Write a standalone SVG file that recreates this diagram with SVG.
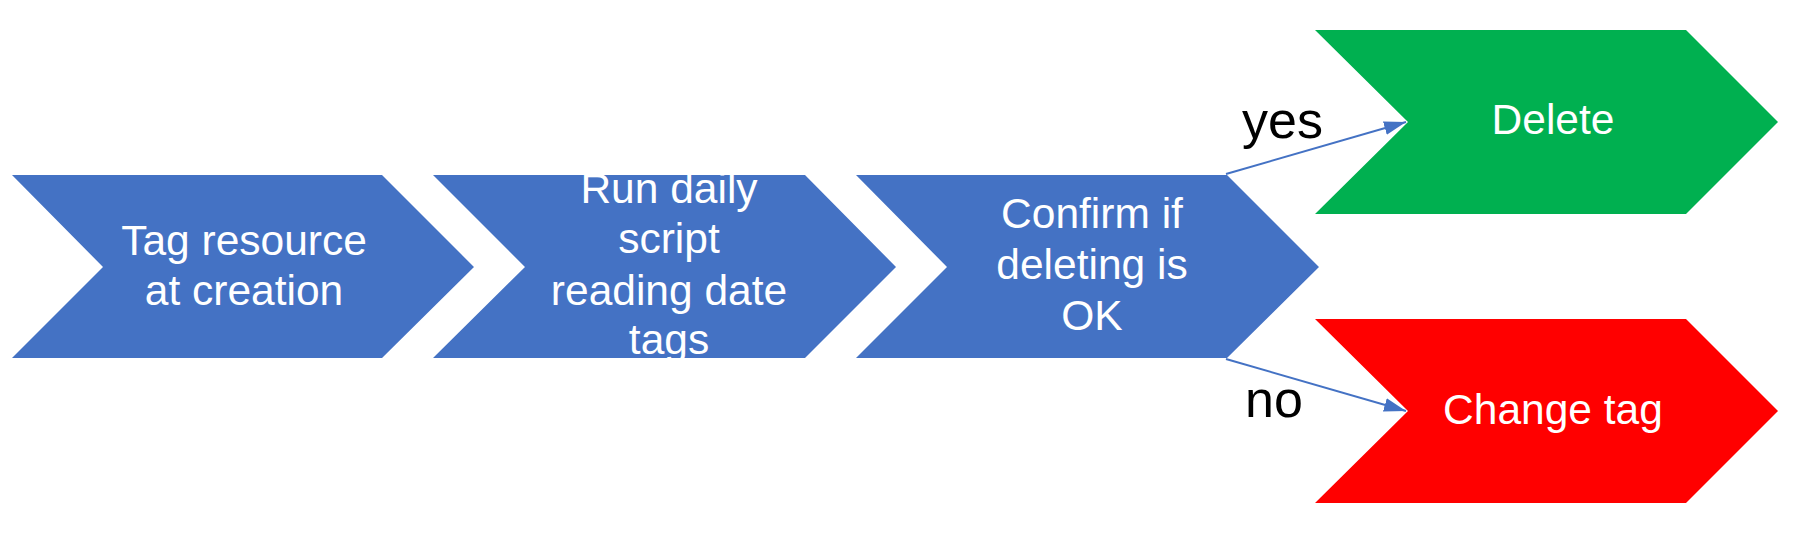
<svg xmlns="http://www.w3.org/2000/svg" width="1795" height="537" viewBox="0 0 1795 537">
<style>
.blue{fill:#4472C4}
.green{fill:#00B050}
.red{fill:#FF0000}
.t{font-family:"Liberation Sans",Arial,sans-serif;font-size:42.5px;fill:#FFFFFF;text-anchor:middle}
.lbl{font-family:"Liberation Sans",Arial,sans-serif;font-size:52px;fill:#000000}
.conn{stroke:#4472C4;stroke-width:2;fill:none}
</style>
<defs>
<marker id="arrow" markerUnits="userSpaceOnUse" markerWidth="24" markerHeight="16" refX="22" refY="7" orient="auto">
<path d="M0,0 L22,7 L0,14 Z" fill="#4472C4"/>
</marker>
</defs>
<rect width="1795" height="537" fill="#FFFFFF"/>
<g id="node-tag">
<polygon class="blue" points="12,175 382,175 474,267 382,358 12,358 103,267"/>
<text class="t" x="244" y="255">Tag resource</text>
<text class="t" x="244" y="305">at creation</text>
</g>
<g id="node-run">
<polygon class="blue" points="433,175 805,175 896,267 805,358 433,358 525,267"/>
<text class="t" x="669" y="203">Run daily</text>
<text class="t" x="669" y="253">script</text>
<text class="t" x="669" y="305">reading date</text>
<text class="t" x="669" y="354">tags</text>
</g>
<g id="node-confirm">
<polygon class="blue" points="856,175 1227,175 1319,267 1227,358 856,358 947,267"/>
<text class="t" x="1092" y="228">Confirm if</text>
<text class="t" x="1092" y="279">deleting is</text>
<text class="t" x="1092" y="330">OK</text>
</g>
<g id="node-delete">
<polygon class="green" points="1315,30 1686,30 1778,122 1686,214 1315,214 1408,122"/>
<text class="t" x="1553" y="134">Delete</text>
</g>
<g id="node-change">
<polygon class="red" points="1315,319 1686,319 1778,411 1686,503 1315,503 1408,411"/>
<text class="t" x="1553" y="424">Change tag</text>
</g>
<g id="connectors">
<line class="conn" x1="1226" y1="174" x2="1406" y2="122" marker-end="url(#arrow)"/>
<line class="conn" x1="1226" y1="359" x2="1406" y2="411" marker-end="url(#arrow)"/>
<text class="lbl" x="1242" y="138">yes</text>
<text class="lbl" x="1245" y="417">no</text>
</g>
</svg>
